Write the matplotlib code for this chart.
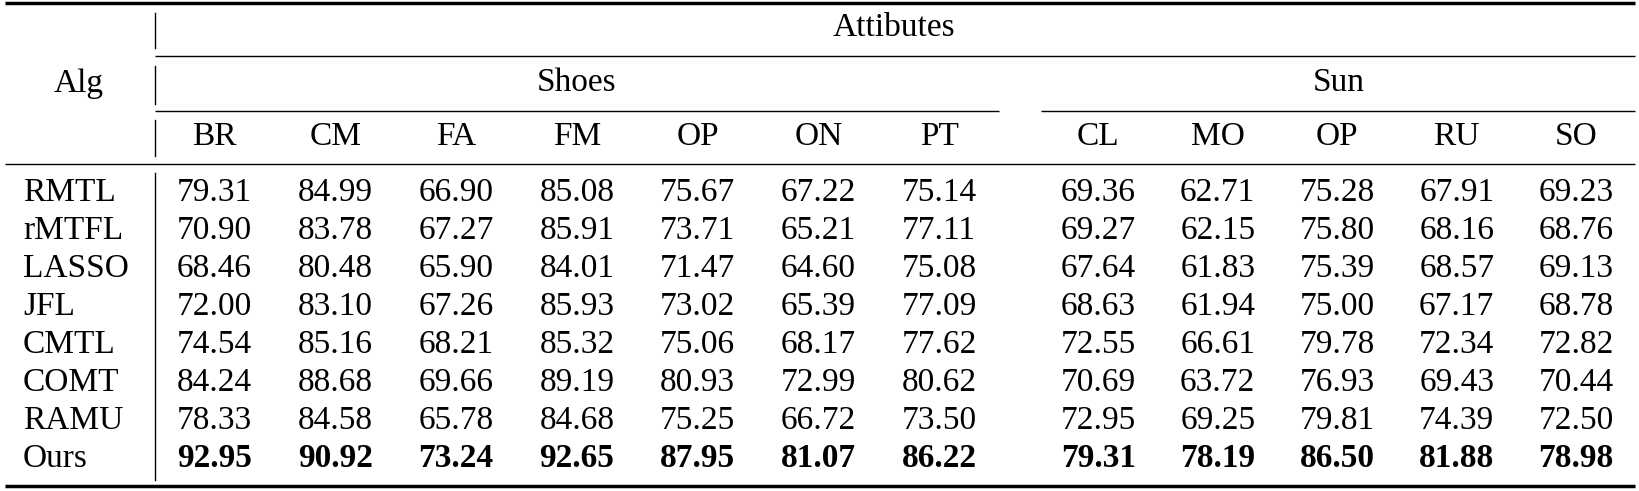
import matplotlib
matplotlib.use("Agg")
import matplotlib.pyplot as plt

algs = ["RMTL", "rMTFL", "LASSO", "JFL", "CMTL", "COMT", "RAMU", "Ours"]
shoes_cols = ["BR", "CM", "FA", "FM", "OP", "ON", "PT"]
sun_cols = ["CL", "MO", "OP", "RU", "SO"]
shoes = [
    [79.31, 84.99, 66.90, 85.08, 75.67, 67.22, 75.14],
    [70.90, 83.78, 67.27, 85.91, 73.71, 65.21, 77.11],
    [68.46, 80.48, 65.90, 84.01, 71.47, 64.60, 75.08],
    [72.00, 83.10, 67.26, 85.93, 73.02, 65.39, 77.09],
    [74.54, 85.16, 68.21, 85.32, 75.06, 68.17, 77.62],
    [84.24, 88.68, 69.66, 89.19, 80.93, 72.99, 80.62],
    [78.33, 84.58, 65.78, 84.68, 75.25, 66.72, 73.50],
    [92.95, 90.92, 73.24, 92.65, 87.95, 81.07, 86.22],
]
sun = [
    [69.36, 62.71, 75.28, 67.91, 69.23],
    [69.27, 62.15, 75.80, 68.16, 68.76],
    [67.64, 61.83, 75.39, 68.57, 69.13],
    [68.63, 61.94, 75.00, 67.17, 68.78],
    [72.55, 66.61, 79.78, 72.34, 72.82],
    [70.69, 63.72, 76.93, 69.43, 70.44],
    [72.95, 69.25, 79.81, 74.39, 72.50],
    [79.31, 78.19, 86.50, 81.88, 78.98],
]

plt.rcParams['font.family'] = ['Liberation Serif', 'DejaVu Serif']
W, H = 1568, 469.5
fig = plt.figure(figsize=(16.4, 4.91), dpi=100)
ax = fig.add_axes([0, 0, 1, 1])
ax.set_xlim(0, W); ax.set_ylim(H, 0); ax.axis('off')
fs = 24
def t(x, y, s, **kw):
    ax.text(x, y, s, fontsize=fs, ha=kw.pop('ha', 'center'), va='center', **kw)
def hl(y, x0, x1, lw=1.0):
    ax.plot([x0, x1], [y, y], color='black', lw=lw, solid_capstyle='butt')

hl(3, 5, 1563, 2.5)
hl(54, 148, 1563)
hl(106, 148, 955); hl(106, 995, 1563)
hl(157, 5, 1563)
hl(465, 5, 1563, 2.5)
for y0, y1 in [(12, 46), (63, 99), (115, 149), (165, 459)]:
    ax.plot([148, 148], [y0, y1], color='black', lw=1.0)

t(75, 80, "Alg")
t(855, 27, "Attibutes")
t(551, 79, "Shoes")
t(1280, 79, "Sun")
sx = [205 + 115.5 * i for i in range(len(shoes_cols))]
ux = [1050 + 114.25 * i for i in range(len(sun_cols))]
for x, c in zip(sx, shoes_cols):
    t(x, 131, c)
for x, c in zip(ux, sun_cols):
    t(x, 131, c)
for r, a in enumerate(algs):
    y = 184 + 36.4 * r
    w = 'bold' if a == "Ours" else 'normal'
    t(22, y, a, ha='left')
    for x, v in zip(sx, shoes[r]):
        t(x, y, f"{v:.2f}", fontweight=w)
    for x, v in zip(ux, sun[r]):
        t(x, y, f"{v:.2f}", fontweight=w)
fig.savefig("out.png", dpi=100)
